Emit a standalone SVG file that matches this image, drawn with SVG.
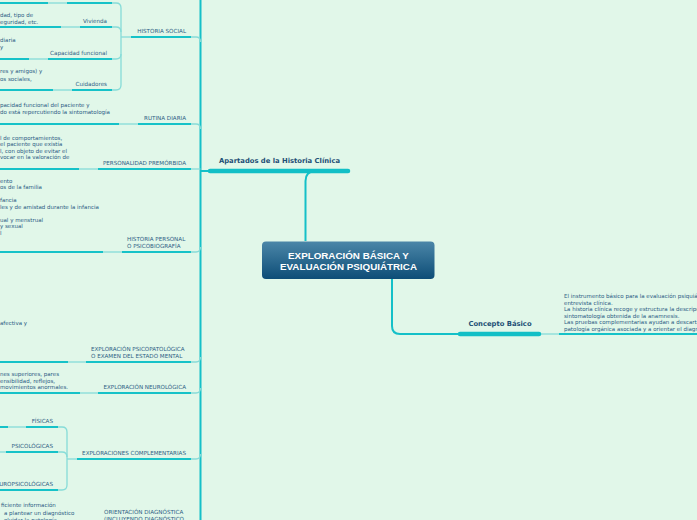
<svg xmlns="http://www.w3.org/2000/svg" width="697" height="520" viewBox="0 0 697 520">
<defs>
<linearGradient id="cg" x1="0" y1="0" x2="0" y2="1">
<stop offset="0" stop-color="#4b86a8"/>
<stop offset="1" stop-color="#0d4d77"/>
</linearGradient>
<style>
.bg{fill:#e1f7e9}
.spine{fill:none;stroke:#14c0c8;stroke-width:2}
.bar{fill:none;stroke:#12bfc6;stroke-width:4.5;stroke-linecap:round}
.ul{fill:none;stroke:#16c2c8;stroke-width:2}
.thin{fill:none;stroke:#86dcd8;stroke-width:1.3}
.lab{font-family:"DejaVu Sans",Verdana,sans-serif;font-size:5.6px;fill:#2d6084}
.txt{font-family:"DejaVu Sans",Verdana,sans-serif;font-size:5.5px;fill:#2b5b84}
.main{font-family:"DejaVu Sans",Verdana,sans-serif;font-size:6.8px;font-weight:bold;fill:#1d4f75}
.ctr{font-family:"Liberation Sans",Arial,sans-serif;font-size:9.8px;font-weight:bold;fill:#ffffff}
.e{text-anchor:end}
.m{text-anchor:middle}
</style>
</defs>
<rect class="bg" x="0" y="0" width="697" height="520"/>

<g id="connectors">
<path class="spine" d="M200.5,0 V520"/>
<path class="spine" d="M208,171 H200.5"/>
<path class="spine" d="M305.5,241 V181 Q305.5,171.5 315,171"/>
<path class="spine" d="M392,279 V326 Q392,334 400,334 H458"/>
<path class="thin" d="M191,37 H196 Q200.5,37 200.5,42"/>
<path class="thin" d="M191,124 H196 Q200.5,124 200.5,129"/>
<path class="thin" d="M191,169 H200.5"/>
<path class="thin" d="M191,252 H196 Q200.5,252 200.5,247"/>
<path class="thin" d="M191,362 H196 Q200.5,362 200.5,357"/>
<path class="thin" d="M191,393 H196 Q200.5,393 200.5,388"/>
<path class="thin" d="M191,459 H196 Q200.5,459 200.5,454"/>
<path class="thin" d="M112,3 H116 Q121,3 121,8 V85 Q121,90 116,90 H112"/>
<path class="thin" d="M112,27 H116 Q121,27 121,32"/>
<path class="thin" d="M112,59 H116 Q121,59 121,54"/>
<path class="thin" d="M121,37 H131"/>
<path class="thin" d="M48,3 H67"/>
<path class="thin" d="M61,27 H80"/>
<path class="thin" d="M29,59 H48"/>
<path class="thin" d="M53,90 H72"/>
<path class="thin" d="M119,124 H138"/>
<path class="thin" d="M79,169 H98"/>
<path class="thin" d="M103,252 H122"/>
<path class="thin" d="M68,362 H86"/>
<path class="thin" d="M80,393 H98"/>
<path class="thin" d="M58,427 H62 Q67,427 67,432 V485 Q67,490 62,490 H58"/>
<path class="thin" d="M58,452 H62 Q67,452 67,457"/>
<path class="thin" d="M67,459 H77"/>
<path class="thin" d="M8,427 H26"/>
<path class="thin" d="M0,452 H6"/>
<path class="thin" d="M541,334 H559"/>
</g>

<g id="central">
<rect x="262" y="241.5" width="172.5" height="37.5" rx="4" fill="url(#cg)"/>
<text class="ctr m" x="348.5" y="258.5">EXPLORACIÓN BÁSICA Y</text>
<text class="ctr m" x="348.5" y="270">EVALUACIÓN PSIQUIÁTRICA</text>
</g>

<g id="apartados">
<path class="bar" d="M210,171 H348"/>
<text class="main m" x="279.5" y="162.5">Apartados de la Historia Clínica</text>
</g>

<g id="concepto">
<path class="bar" d="M460,334 H539"/>
<text class="main m" x="500" y="325.5">Concepto Básico</text>
</g>

<g id="concepto-texto">
<path class="ul" d="M559,334 H697"/>
<text class="txt" x="564" y="298">El instrumento básico para la evaluación psiquiá</text>
<text class="txt" x="564" y="304.5">entrevista clínica.</text>
<text class="txt" x="564" y="311">La historia clínica recoge y estructura la descripci</text>
<text class="txt" x="564" y="317.5">sintomatología obtenida de la anamnesis.</text>
<text class="txt" x="564" y="324">Las pruebas complementarias ayudan a descarta</text>
<text class="txt" x="564" y="330.5">patología orgánica asociada y a orientar el diagn</text>
</g>

<g id="historia-social">
<path class="ul" d="M131,37 H191"/>
<text class="lab e" x="186" y="33">HISTORIA SOCIAL</text>
</g>
<g id="hs-primero">
<path class="ul" d="M67,3 H112"/>
<path class="ul" d="M0,3 H48"/>
</g>
<g id="vivienda">
<path class="ul" d="M80,27 H112"/>
<text class="lab e" x="107" y="23">Vivienda</text>
<path class="ul" d="M0,27 H61"/>
<text class="txt" x="0" y="17">dad, tipo de</text>
<text class="txt" x="0" y="23.5">eguridad, etc.</text>
</g>
<g id="capacidad-funcional">
<path class="ul" d="M48,59 H112"/>
<text class="lab e" x="107" y="55">Capacidad funcional</text>
<path class="ul" d="M0,59 H29"/>
<text class="txt" x="0" y="42">diaria</text>
<text class="txt" x="0" y="48.5">y</text>
</g>
<g id="cuidadores">
<path class="ul" d="M72,90 H112"/>
<text class="lab e" x="107" y="86">Cuidadores</text>
<path class="ul" d="M0,90 H53"/>
<text class="txt" x="0" y="73">res y amigos) y</text>
<text class="txt" x="0" y="80.5">os sociales,</text>
</g>

<g id="rutina-diaria">
<path class="ul" d="M138,124 H191"/>
<text class="lab e" x="186" y="120">RUTINA DIARIA</text>
<path class="ul" d="M0,124 H119"/>
<text class="txt" x="0" y="106.5">pacidad funcional del paciente y</text>
<text class="txt" x="0" y="113.5">do está repercutiendo la sintomatología</text>
</g>

<g id="personalidad">
<path class="ul" d="M98,169 H191"/>
<text class="lab e" x="186" y="165">PERSONALIDAD PREMÓRBIDA</text>
<path class="ul" d="M0,169 H79"/>
<text class="txt" x="0" y="139.5">l de comportamientos,</text>
<text class="txt" x="0" y="146">el paciente que existía</text>
<text class="txt" x="0" y="152.5">l, con objeto de evitar el</text>
<text class="txt" x="0" y="159">vocar en la valoración de</text>
</g>

<g id="historia-personal">
<path class="ul" d="M122,252 H191"/>
<text class="lab" x="127" y="241">HISTORIA PERSONAL</text>
<text class="lab" x="127" y="247.5">O PSICOBIOGRAFÍA</text>
<path class="ul" d="M0,252 H103"/>
<text class="txt" x="0" y="182.5">ento</text>
<text class="txt" x="0" y="189">os de la familia</text>
<text class="txt" x="0" y="202">fancia</text>
<text class="txt" x="0" y="208.5">les y de amistad durante la infancia</text>
<text class="txt" x="0" y="221.5">ual y menstrual</text>
<text class="txt" x="0" y="228">y sexual</text>
<text class="txt" x="0" y="234.5">l</text>
</g>

<g id="psicopatologica">
<path class="ul" d="M86,362 H191"/>
<text class="lab" x="91" y="351">EXPLORACIÓN PSICOPATOLÓGICA</text>
<text class="lab" x="91" y="358">O EXAMEN DEL ESTADO MENTAL</text>
<path class="ul" d="M0,362 H68"/>
<text class="txt" x="0" y="325">afectiva y</text>
</g>

<g id="neurologica">
<path class="ul" d="M98,393 H191"/>
<text class="lab e" x="186" y="389">EXPLORACIÓN NEUROLÓGICA</text>
<path class="ul" d="M0,393 H80"/>
<text class="txt" x="0" y="376">nes superiores, pares</text>
<text class="txt" x="0" y="382.5">ensibilidad, reflejos,</text>
<text class="txt" x="0" y="389">movimientos anormales.</text>
</g>

<g id="complementarias">
<path class="ul" d="M77,459 H191"/>
<text class="lab e" x="186" y="455">EXPLORACIONES COMPLEMENTARIAS</text>
</g>
<g id="fisicas">
<path class="ul" d="M26,427 H58"/>
<text class="lab e" x="53" y="423">FÍSICAS</text>
<path class="ul" d="M0,427 H8"/>
</g>
<g id="psicologicas">
<path class="ul" d="M6,452 H58"/>
<text class="lab e" x="53" y="448">PSICOLÓGICAS</text>
</g>
<g id="neuropsicologicas">
<path class="ul" d="M0,490 H58"/>
<text class="lab e" x="53" y="486">UROPSICOLÓGICAS</text>
</g>

<g id="orientacion">
<text class="lab" x="104" y="514">ORIENTACIÓN DIAGNÓSTICA</text>
<text class="lab" x="104" y="521">(INCLUYENDO DIAGNÓSTICO</text>
<text class="txt" x="1" y="507">ficiente información</text>
<text class="txt" x="4" y="514.5">a plantear un diagnóstico</text>
<text class="txt" x="4" y="521.5">olvidar la patología</text>
</g>
</svg>
